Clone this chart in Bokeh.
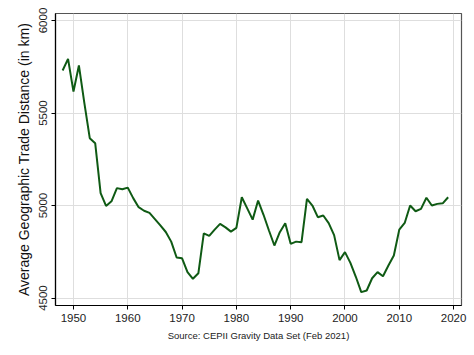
from bokeh.plotting import figure
from bokeh.models import Range1d, FixedTicker
from bokeh.embed import file_html
from bokeh.resources import INLINE

years = list(range(1948, 2020))
distance = [
    5730, 5793, 5616, 5757, 5555, 5364, 5337, 5067, 4998, 5023,
    5094, 5088, 5097, 5040, 4991, 4972, 4960, 4927, 4893, 4857,
    4805, 4719, 4715, 4640, 4604, 4634, 4850, 4836, 4870, 4901,
    4882, 4859, 4879, 5045, 4985, 4924, 5027, 4950, 4865, 4784,
    4856, 4904, 4793, 4805, 4802, 5036, 5000, 4937, 4946, 4905,
    4840, 4705, 4748, 4690, 4615, 4532, 4541, 4607, 4640, 4618,
    4676, 4730, 4870, 4906, 5000, 4969, 4982, 5042, 5000, 5009,
    5012, 5045,
]
x_ticks = [1950, 1960, 1970, 1980, 1990, 2000, 2010, 2020]
y_ticks = [4500, 5000, 5500, 6000]
y_label = "Average Geographic Trade Distance (in km)"
source_note = "Source: CEPII Gravity Data Set (Feb 2021)"

FONT = "Liberation Sans"

p = figure(width=474, height=355, output_backend="svg", toolbar_location=None,
           x_range=Range1d(1946.69, 2021.46), y_range=Range1d(4459.8, 6037.8),
           min_border_left=55, min_border_right=13, min_border_top=13,
           min_border_bottom=50)
p.background_fill_color = "white"
p.border_fill_color = "white"
p.outline_line_color = "#555555"
p.outline_line_width = 1.2

p.line(years, distance, line_color="#0f5a14", line_width=2)

for ax in (p.xaxis[0], p.yaxis[0]):
    ax.axis_line_color = "black"
    ax.axis_line_width = 1.2
    ax.major_tick_line_color = "black"
    ax.major_tick_out = 4
    ax.major_tick_in = 0
    ax.minor_tick_line_color = None
    ax.major_label_text_font = FONT
    ax.major_label_text_font_size = "11.5px"
    ax.major_label_text_color = "#222222"
    ax.major_label_standoff = 4

p.xaxis.ticker = FixedTicker(ticks=x_ticks)
p.yaxis.ticker = FixedTicker(ticks=y_ticks)
p.yaxis.major_label_orientation = "vertical"

p.yaxis.axis_label = y_label
p.yaxis.axis_label_text_font = FONT
p.yaxis.axis_label_text_font_size = "14px"
p.yaxis.axis_label_text_font_style = "normal"
p.yaxis.axis_label_text_color = "#111111"
p.yaxis.axis_label_standoff = 5

p.xaxis.axis_label = source_note
p.xaxis.axis_label_text_font = FONT
p.xaxis.axis_label_text_font_size = "9.5px"
p.xaxis.axis_label_text_font_style = "normal"
p.xaxis.axis_label_text_color = "#222222"
p.xaxis.axis_label_standoff = 5

p.xgrid.ticker = FixedTicker(ticks=x_ticks)
p.ygrid.ticker = FixedTicker(ticks=y_ticks)
p.grid.grid_line_color = "#dedede"
p.grid.grid_line_width = 1

open("out.html", "w").write(file_html(p, INLINE))
